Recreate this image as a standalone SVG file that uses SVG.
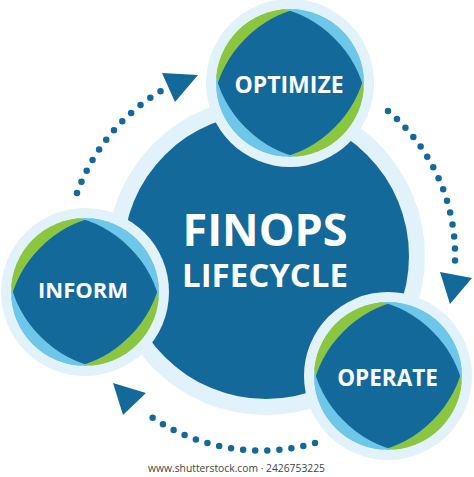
<svg xmlns="http://www.w3.org/2000/svg" xmlns:xlink="http://www.w3.org/1999/xlink" width="474" height="477" viewBox="0 0 474 477">
<style>
.halo{fill:#e2f2fa}
.dark{fill:#14699b}
.lbl{font-family:"Open Sans","Liberation Sans",sans-serif;font-weight:700;fill:#ffffff;text-anchor:middle}
.dots{fill:none;stroke:#14699b;stroke-width:6.5;stroke-linecap:round}
.head{fill:#14699b}
.foot{font-family:"Open Sans","Liberation Sans",sans-serif;font-size:10.3px;fill:#444;text-anchor:middle}
</style>
<defs>
<clipPath id="cc"><circle r="74"/></clipPath>
<clipPath id="ce"><ellipse rx="87" ry="63" transform="rotate(45)"/></clipPath>
<g id="badge">
<circle r="84" class="halo"/>
<g clip-path="url(#cc)">
<circle r="74" fill="#6ec6e8"/>
<ellipse rx="87" ry="63" transform="rotate(45)" fill="#8cc63f"/>
<ellipse rx="87" ry="63" transform="rotate(-45)" fill="#6ec6e8"/>
<g clip-path="url(#ce)">
<ellipse rx="87" ry="63" transform="rotate(-45)" class="dark"/>
</g>
</g>
</g>
</defs>
<rect width="474" height="477" fill="#ffffff"/>
<g id="connectors">
<path class="dots" stroke-dasharray="0 12.2" d="M77,193 A197,197 0 0 1 161,91"/>
<polygon class="head" points="162,73 198,75 175,102"/>
<path class="dots" stroke-dasharray="0 12.1" d="M388,111 A189,189 0 0 1 455,261"/>
<polygon class="head" points="440,272 472,278 450,304"/>
<path class="dots" stroke-dasharray="0 12.1" d="M315,443 A196,196 0 0 1 143,411"/>
<polygon class="head" points="113,383 146,393 123,415"/>
</g>
<g id="center">
<circle cx="266" cy="256" r="159" class="halo"/>
<circle cx="266" cy="256" r="143" class="dark"/>
<text class="lbl" x="265" y="246" font-size="45">FINOPS</text>
<text class="lbl" x="265" y="287" font-size="33">LIFECYCLE</text>
</g>
<g id="optimize">
<use xlink:href="#badge" x="290" y="83"/>
<text class="lbl" x="289" y="93" font-size="23">OPTIMIZE</text>
</g>
<g id="inform">
<use xlink:href="#badge" x="85" y="292"/>
<text class="lbl" x="83" y="298" font-size="22">INFORM</text>
</g>
<g id="operate">
<use xlink:href="#badge" x="388" y="376"/>
<text class="lbl" x="387.5" y="386" font-size="22.5">OPERATE</text>
</g>
<text class="foot" x="236.5" y="472">www.shutterstock.com · 2426753225</text>
</svg>
